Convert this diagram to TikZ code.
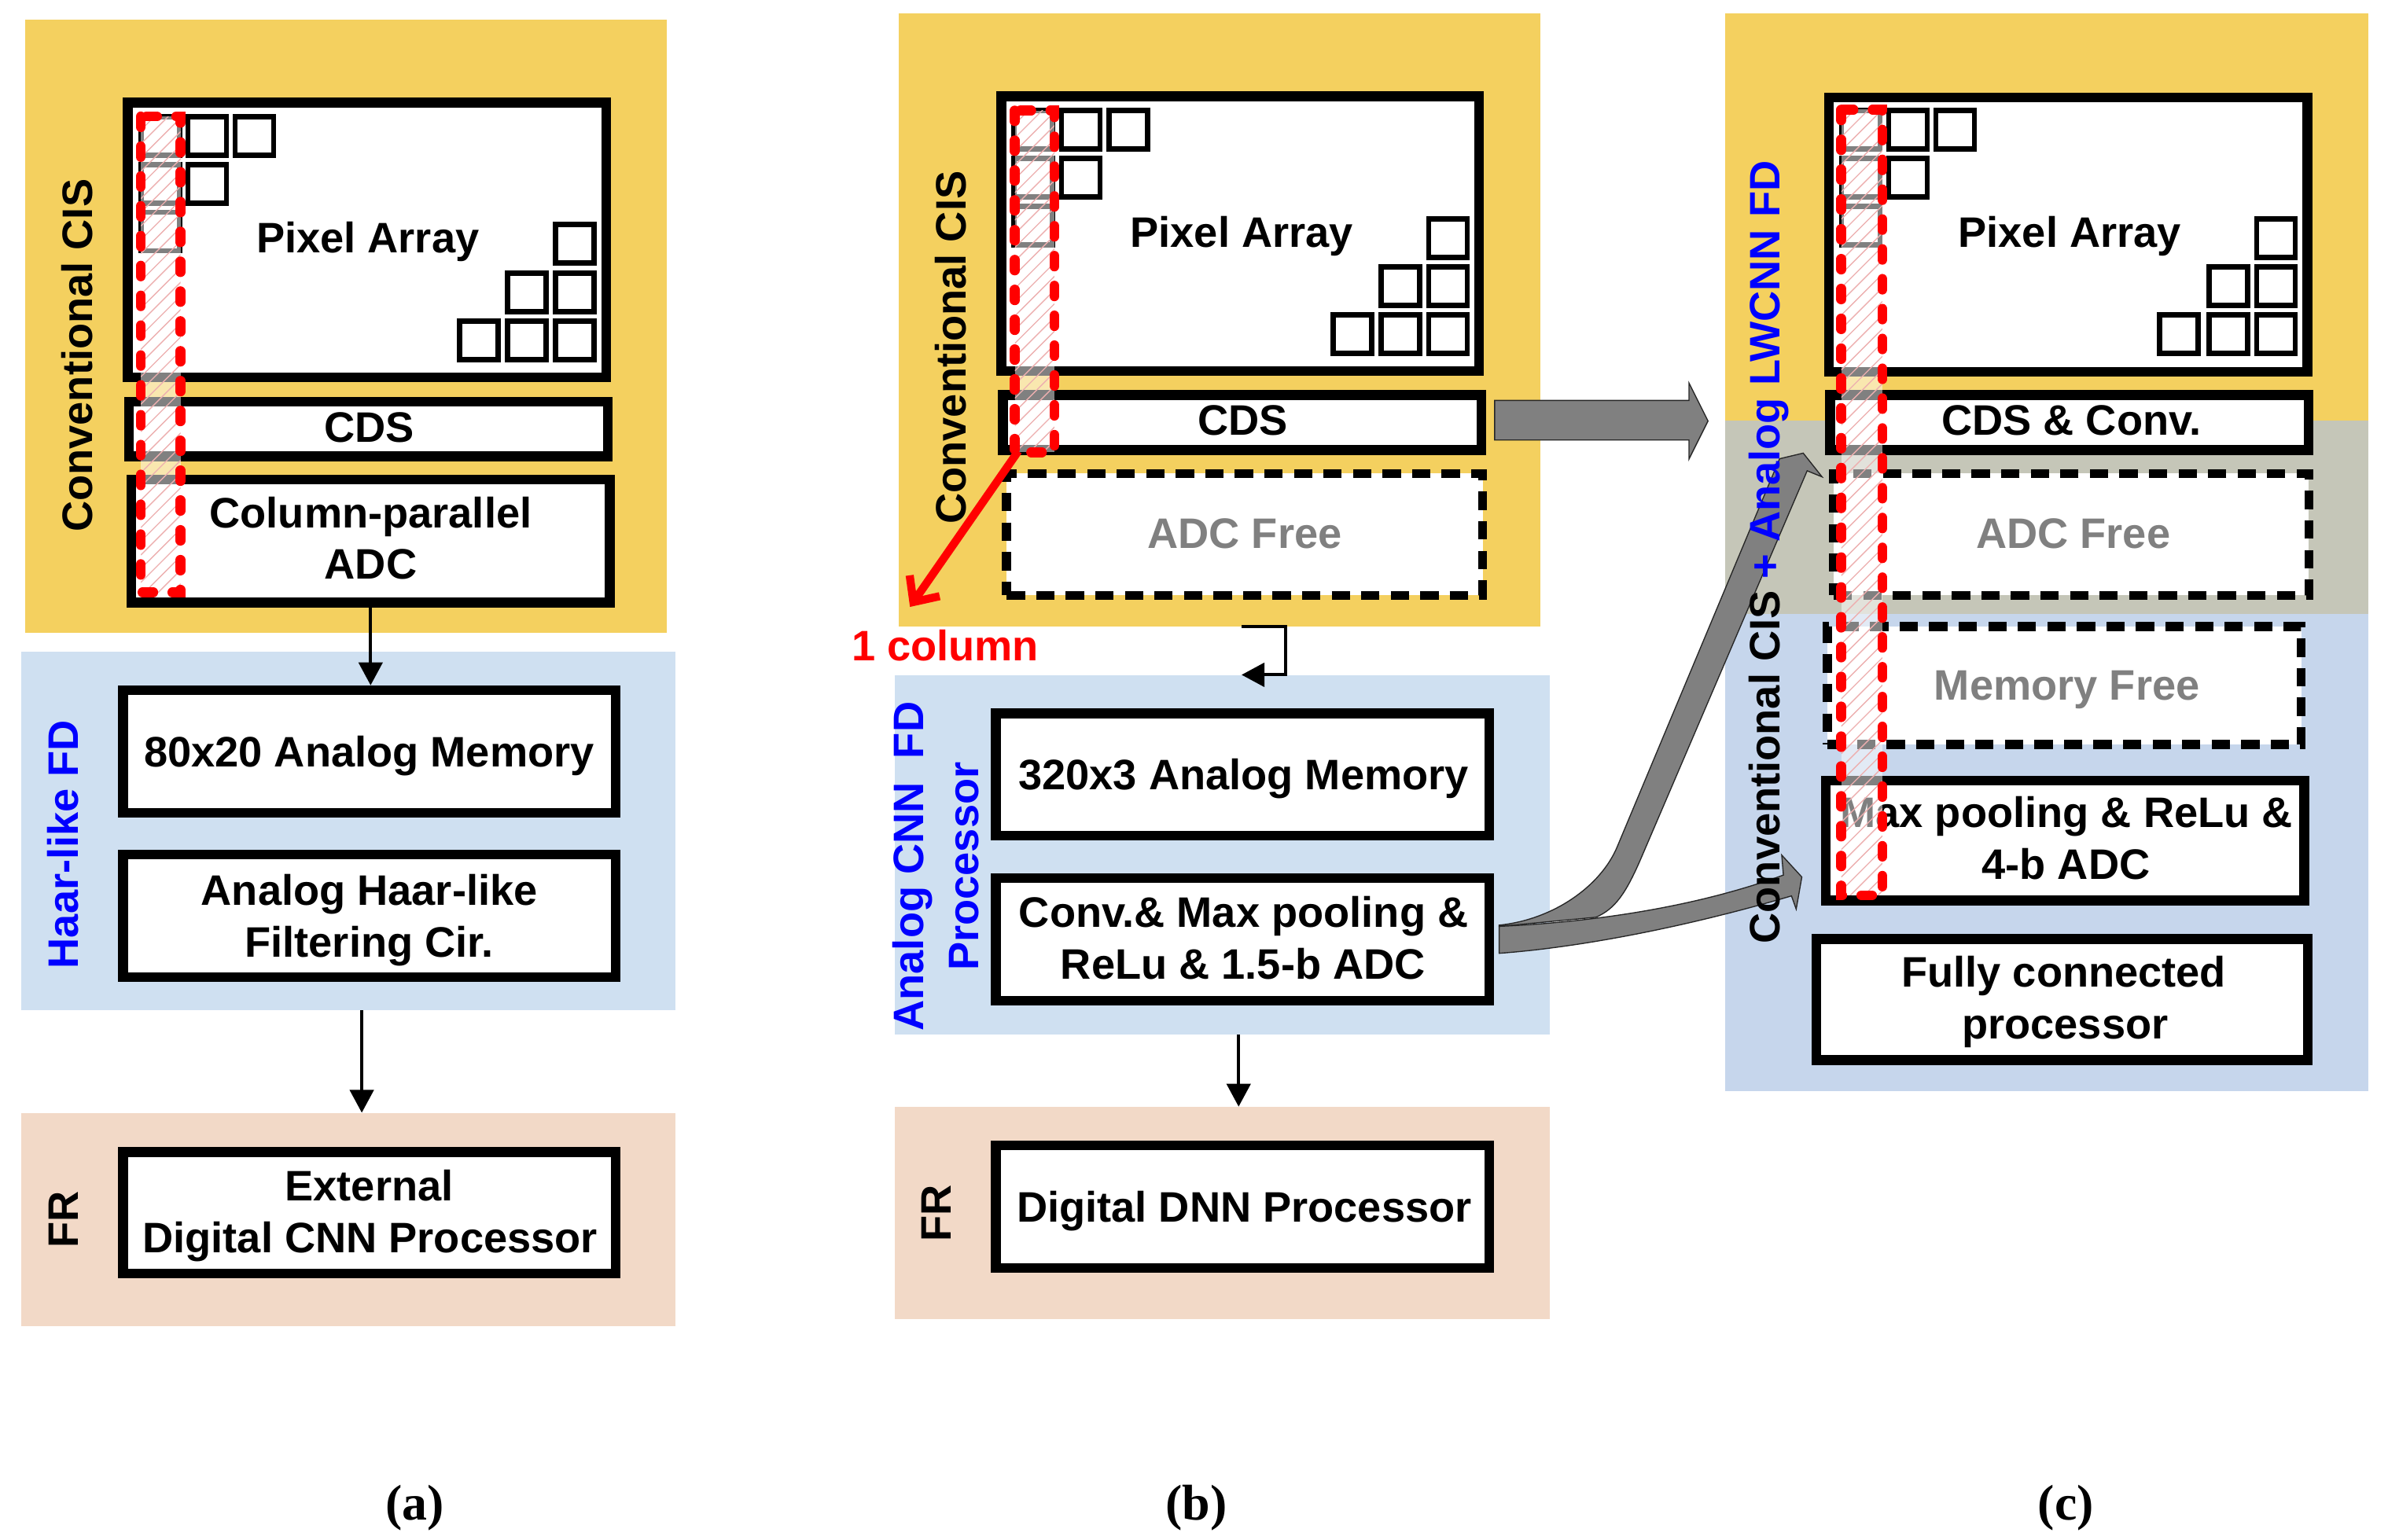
\documentclass[tikz,border=0pt]{standalone}
\usepackage{fontspec}
\setmainfont{Liberation Sans}
\newfontfamily\capfont{Liberation Serif}
\usetikzlibrary{arrows.meta,calc,fit}
\definecolor{cisyellow}{HTML}{F4D05F}
\definecolor{fdblue}{HTML}{CFE0F1}
\definecolor{frpink}{HTML}{F2D9C7}
\definecolor{cblue}{HTML}{C6D6EC}
\definecolor{cgray}{HTML}{C5C6B8}
\definecolor{hatchred}{HTML}{EDAFAF}
\definecolor{arrowgray}{HTML}{808080}
\definecolor{textgray}{HTML}{808080}
\definecolor{fdtext}{HTML}{0000FF}
\newcommand\pxsq[2]{\draw[pixline] ({#1-12.65},{#2-12.65}) rectangle ++(25.3,25.3);}
\newcommand\drawcolumn[4]{%
  \fill[white,fill opacity=0.5] (#1,#2) rectangle (#3,#4);
  \begin{scope}
    \clip (#1,#2) rectangle (#3,#4);
    \foreach \k in {0,9,...,590} \draw[hatchred,line width=0.7pt] (#1,{#2+\k}) -- ++(40,-40);
  \end{scope}
  \draw[red,line width=6.5pt,dash pattern=on 7pt off 12.6pt,line cap=round] (#1,#2) rectangle (#3,#4);
}
\begin{document}
\begin{tikzpicture}[x=1pt,y=-1pt,
  box/.style={draw=black, line width=6.5pt, fill=white, inner sep=0pt},
  dbox/.style={draw=black, line width=6pt, dash pattern=on 12pt off 7.4pt, fill=white, inner sep=0pt},
  panel/.style={draw=none, inner sep=0pt},
  txt/.style={font=\fontsize{28}{34}\selectfont\bfseries, inner sep=0pt, anchor=base},
  gtxt/.style={txt, text=textgray},
  rtxt/.style={font=\fontsize{28}{34}\selectfont\bfseries, inner sep=0pt, anchor=center, rotate=90},
  pixline/.style={draw=black, line width=3.5pt},
  arr/.style={draw=black, line width=2pt, -{Triangle[length=15pt,width=15.6pt]}},
  redarr/.style={draw=red, line width=5.3pt, -{Straight Barb[length=13pt,width=24pt]}},
  garrow/.style={fill=arrowgray, draw=black!85, line width=0.7pt, line join=miter},
  lab/.style={font=\capfont\bfseries\fontsize{33}{38}\selectfont, anchor=base, inner sep=0pt}]
\useasboundingbox (0,0) rectangle (1568,1011);
\fill[white] (0,0) rectangle (1568,1011);

% ---------- backgrounds ----------
\node[panel, fill=cisyellow, fit={(16.3,13) (438,415.8)}] (bgA1) {};
\node[panel, fill=fdblue, fit={(13.9,427.8) (443.5,663.4)}] (bgA2) {};
\node[panel, fill=frpink, fit={(13.9,731) (443.5,871)}] (bgA3) {};
\node[panel, fill=cisyellow, fit={(590,8.9) (1011.4,411.4)}] (bgB1) {};
\node[panel, fill=fdblue, fit={(587.5,443.4) (1017.5,679.5)}] (bgB2) {};
\node[panel, fill=frpink, fit={(587.5,727) (1017.5,866.4)}] (bgB3) {};
\node[panel, fill=cisyellow, fit={(1133,8.9) (1555,276)}] (bgC1) {};
\node[panel, fill=cgray, fit={(1133,276) (1555,403)}] (bgC2) {};
\node[panel, fill=cblue, fit={(1133,403) (1555,716.6)}] (bgC3) {};

% ---------- boxes (a) ----------
\node[box, fit={(84,67.5) (398,247.8)}] (pixA) {};
\node[box, fit={(84.7,263.8) (399,299.7)}] (cdsA) {};
\node[box, fit={(86.3,315) (400.4,395.6)}] (adcA) {};
\node[box, fit={(80.9,453.3) (404.2,533.8)}] (memA) {};
\node[box, fit={(80.9,561.3) (404.2,641.8)}] (haarA) {};
\node[box, fit={(80.9,756.5) (404.2,836.4)}] (extA) {};
% ---------- boxes (b) ----------
\node[box, fit={(657.6,63.4) (971.2,243.7)}] (pixB) {};
\node[box, fit={(658.5,259.5) (972.7,295.5)}] (cdsB) {};
\node[dbox, fit={(661,311) (973.5,391)}] (adcfB) {};
\node[box, fit={(654,468.5) (977.8,548.8)}] (memB) {};
\node[box, fit={(654,576.7) (977.8,657.3)}] (convB) {};
\node[box, fit={(654,752.2) (977.8,832.8)}] (dnnB) {};
% ---------- boxes (c) ----------
\node[box, fit={(1200.8,64) (1515.2,244.2)}] (pixC) {};
\node[box, fit={(1201.7,259.5) (1515.8,295.5)}] (cdsC) {};
\node[dbox, fit={(1204,311) (1516,391)}] (adcfC) {};
\node[dbox, fit={(1200,411.5) (1511,489)}] (memfC) {};
\node[box, fit={(1198.8,512.6) (1512.9,591.4)}] (maxC) {};
\node[box, fit={(1192.7,616.8) (1515.3,696.3)}] (fcC) {};

% ---------- pixel squares ----------
\foreach \cx/\cy in {105.5/89.3,136/89.3,167/89.3,105.5/120.9,136/120.9,105.5/152,
  377.3/160,345.8/192,377.3/192,314.5/223.6,345.8/223.6,377.3/223.6} {\pxsq{\cx}{\cy}}
\foreach \cx/\cy in {678.3/85.2,709.6/85.2,740.8/85.2,678.3/116.7,709.6/116.7,678.3/148,
  950.8/156.3,919.5/188,950.8/188,888.2/219.5,919.5/219.5,950.8/219.5} {\pxsq{\cx}{\cy}}
\foreach \cx/\cy in {1221.8/85.2,1252.8/85.2,1283.8/85.2,1221.8/116.7,1252.8/116.7,1221.8/148,
  1494.4/156.3,1463/188,1494.4/188,1430.6/219.5,1463/219.5,1494.4/219.5} {\pxsq{\cx}{\cy}}

% ---------- texts (a) ----------
\node[txt] (tPixA) at (241.5,166) {Pixel Array};
\node[txt] (tCdsA) at (242.4,290.3) {CDS};
\node[txt] (tAdcA1) at (243.4,346.5) {Column-parallel};
\node[txt] (tAdcA2) at (243.4,380.2) {ADC};
\node[txt] (tMemA) at (242.4,503.4) {80x20 Analog Memory};
\node[txt] (tHaarA1) at (242.5,594.4) {Analog Haar-like};
\node[txt] (tHaarA2) at (242.5,628.7) {Filtering Cir.};
\node[txt] (tExtA1) at (242.4,788.5) {External};
\node[txt] (tExtA2) at (243,822.8) {Digital CNN Processor};
% ---------- texts (b) ----------
\node[txt] (tPixB) at (815.3,162.4) {Pixel Array};
\node[txt] (tCdsB) at (816.2,286) {CDS};
\node[gtxt] (tAdcfB) at (817.3,360) {ADC Free};
\node[txt] (tMemB) at (816.6,518.4) {320x3 Analog Memory};
\node[txt] (tConvB1) at (816.6,609.2) {Conv.\& Max pooling \&};
\node[txt] (tConvB2) at (816.2,643) {ReLu \& 1.5-b ADC};
\node[txt] (tDnnB) at (817,802.5) {Digital DNN Processor};
\node[txt, text=red] (tOneCol) at (620.6,433.7) {1 column};
% ---------- texts (c) ----------
\node[txt] (tPixC) at (1359,162.4) {Pixel Array};
\node[txt] (tCdsC) at (1360.1,286) {CDS \& Conv.};
\node[gtxt] (tAdcfC) at (1361.3,360) {ADC Free};
\node[gtxt] (tMemfC) at (1357.2,459.6) {Memory Free};
\node[txt] (tMaxC1) at (1356.9,543.5) {Max pooling \& ReLu \&};
\node[txt] (tMaxC2) at (1356.6,577.5) {4-b ADC};
\node[txt] (tFcC1) at (1355.1,648.1) {Fully connected};
\node[txt] (tFcC2) at (1356,682.2) {processor};

% ---------- highlighted columns ----------
\drawcolumn{92.5}{76.5}{118.5}{389}
\drawcolumn{666.3}{72.6}{692.3}{297}
\drawcolumn{1209}{72}{1236}{588}

% ---------- connectors ----------
\draw[arr] (adcA.south) -- (adcA.south |- memA.north);
\draw[arr] ([xshift=-5pt]haarA.south |- bgA2.south) -- ([xshift=-5pt]haarA.south |- bgA3.north);
\draw[arr] ([xshift=-2pt]adcfB.south |- bgB1.south) -- ++(29,0) |- ([xshift=-2pt]adcfB.south |- bgB2.north);
\draw[arr] ([xshift=-2.6pt]memB.south |- bgB2.south) -- ([xshift=-2.6pt]memB.south |- bgB3.north);
\coordinate (colBbot) at (668.6,296.3);
\coordinate (colBtip) at (597.5,398.6);
\draw[redarr] (colBbot) -- (colBtip);

% ---------- block arrows ----------
\filldraw[garrow] (981.4,263) -- (1109,263) -- (1109,251.5) -- (1121.5,276.5) -- (1109,301.5) -- (1109,289) -- (981.4,289) -- cycle;
\filldraw[garrow] (984.4,607.6) .. controls (1020,604) and (1051,582) .. (1061.8,556.3)
  -- (1168.5,301.3) -- (1184,297.6) -- (1196.4,313.2) -- (1186.6,309.2)
  -- (1077.3,564.2) .. controls (1067,588) and (1060,597) .. (1048,602.4) -- (984.4,608.4) -- cycle;
\filldraw[garrow] (984.4,608.4) .. controls (1040,606) and (1110,597) .. (1171,574.7)
  -- (1169.9,561.6) -- (1183.1,576) -- (1179.4,597.1) -- (1176.3,588.4)
  .. controls (1110,608) and (1040,622) .. (984.4,626.1) -- cycle;

% ---------- rotated labels ----------
\node[rtxt] (rCisA) at (50.4,233.5) {Conventional CIS};
\node[rtxt, text=fdtext] (rFdA) at (41.5,554.5) {Haar-like FD};
\node[rtxt] (rFrA) at (41.5,801) {FR};
\node[rtxt] (rCisB) at (624.3,228.3) {Conventional CIS};
\node[rtxt, text=fdtext] (rFdB1) at (599.3,569) {Analog CNN\ \ FD};
\node[rtxt, text=fdtext] (rFdB2) at (632.8,569) {Processor};
\node[rtxt] (rFrB) at (614.8,797) {FR};
\node[rtxt] (rCisC) at (1161.5,362.7) {Conventional CIS \textcolor{fdtext}{+ Analog LWCNN FD}};

% ---------- panel labels ----------
\node[lab] (labA) at (272.5,998) {(a)};
\node[lab] (labB) at (785.5,998) {(b)};
\node[lab] (labC) at (1356.5,998) {(c)};
\end{tikzpicture}
\end{document}
